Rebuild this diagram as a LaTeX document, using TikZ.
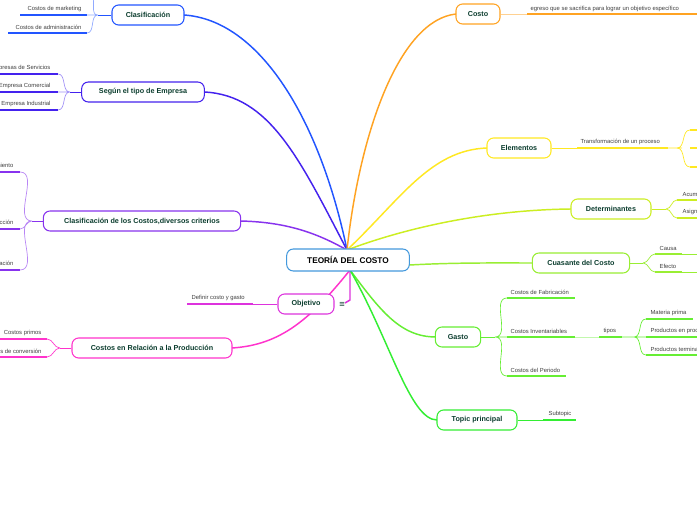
\documentclass[tikz,border=0pt]{standalone}
\usepackage{fontspec}
\setmainfont{Liberation Sans}
\begin{document}
\begin{tikzpicture}[x=0.75pt,y=-0.75pt,
  topic/.style={draw, rounded corners=5pt, line width=0.8pt, fill=white, text=tc, font=\bfseries\fontsize{5.4}{6}\selectfont, minimum height=15pt, inner sep=1pt},
  leaf/.style={font=\fontsize{4.4}{5}\selectfont, text=black!75, inner sep=1pt},
  br/.style={line width=1.1pt},
  ln/.style={line width=1.6pt},
  thin/.style={line width=0.5pt}]
\definecolor{tc}{HTML}{0B3D2E}
\definecolor{cBlue}{HTML}{2255FF}
\definecolor{cInd}{HTML}{4422EE}
\definecolor{cPur}{HTML}{8833EE}
\definecolor{cMag}{HTML}{DD33DD}
\definecolor{cPink}{HTML}{FF33CC}
\definecolor{cOr}{HTML}{FFA322}
\definecolor{cYel}{HTML}{FFE822}
\definecolor{cYG}{HTML}{CCEE22}
\definecolor{cLime}{HTML}{99EE33}
\definecolor{cGr}{HTML}{66EE33}
\definecolor{cGr2}{HTML}{33EE33}
\definecolor{cCen}{HTML}{4499DD}
\fill[white] (0,0) rectangle (697,520);
\useasboundingbox (0,0) rectangle (697,520);
\clip (0,0) rectangle (697,520);
\coordinate (ct) at (347,250);
\coordinate (cb) at (350,270);
% main branches
\draw[br,cBlue] (ct) .. controls (320,120) and (260,20) .. (184,15);
\draw[br,cInd] (ct) .. controls (300,160) and (270,95) .. (204,92);
\draw[br,cPur] (ct) .. controls (320,235) and (290,222) .. (240,221);
\draw[br,cMag] (cb) -- (350,300) -- (345,303);
\draw[br,cPink] (cb) .. controls (310,320) and (280,345) .. (232,348);
\draw[br,cOr] (ct) .. controls (360,130) and (400,20) .. (456,14);
\draw[br,cYel] (ct) .. controls (400,200) and (430,150) .. (487,148);
\draw[br,cYG] (ct) .. controls (400,230) and (480,210) .. (571,209);
\draw[br,cLime] (cb) .. controls (420,262) and (480,263) .. (532,263);
\draw[br,cGr] (cb) .. controls (380,310) and (400,337) .. (436,337);
\draw[br,cGr2] (cb) .. controls (390,340) and (410,420) .. (437,420);
% central
\node[topic, draw=cCen, minimum width=92pt, minimum height=16.5pt, font=\bfseries\fontsize{6.2}{7}\selectfont, text=black] (cen) at (348,260) {TEORÍA DEL COSTO};
% Costo
\node[topic, draw=cOr, minimum width=33pt] (costo) at (478,14) {Costo};
\draw[thin,cOr!50] (costo.east) -- (527,14);
\draw[ln,cOr] (527,14) -- (697,14);
\node[leaf, anchor=south west] (costoL) at (529,13) {egreso que se sacrifica para lograr un objetivo específico};
% Elementos
\node[topic, draw=cYel, minimum width=48pt] (elem) at (519,148) {Elementos};
\draw[thin,cYel] (elem.east) -- (577,148);
\draw[ln,cYel] (577,148) -- (668,148);
\node[leaf, anchor=south west] (elemL) at (579,146) {Transformación de un proceso};
\draw[thin,cYel] (668,148) -- (682,148) (677,148) to[out=0,in=180] (690,130) -- (697,130);
\draw[thin,cYel] (677,148) to[out=0,in=180] (690,167) -- (697,167);
\draw[ln,cYel] (690,130) -- (697,130) (690,148) -- (697,148) (690,167) -- (697,167);
% Determinantes
\node[topic, draw=cYG, minimum width=60pt] (det) at (611,209) {Determinantes};
\draw[thin,cYG] (det.east) -- (666,209);
\draw[thin,cYG] (666,209) to[out=0,in=180] (677,200) (666,209) to[out=0,in=180] (677,218);
\draw[ln,cYG] (677,200) -- (697,200) (677,218) -- (697,218);
\node[leaf, anchor=south west] (detA) at (681,198) {Acumulación};
\node[leaf, anchor=south west] (detB) at (681,216) {Asignación};
% Cuasante
\node[topic, draw=cLime, minimum width=73pt] (cua) at (581,263) {Cuasante del Costo};
\draw[thin,cLime] (cua.east) -- (643,263);
\draw[thin,cLime] (643,263) to[out=0,in=180] (655,254) (643,263) to[out=0,in=180] (655,272);
\draw[ln,cLime] (655,254) -- (682,254) (655,272) -- (682,272);
\draw[thin,cLime] (682,254) -- (697,254) (682,272) -- (697,272);
\node[leaf, anchor=south west] (cuaA) at (658,252) {Causa};
\node[leaf, anchor=south west] (cuaB) at (658,270) {Efecto};
% Gasto
\node[topic, draw=cGr, minimum width=34pt] (gasto) at (458,337) {Gasto};
\draw[thin,cGr] (gasto.east) -- (495,337);
\draw[thin,cGr] (495,337) to[out=0,in=180] (507,298) (495,337) to[out=0,in=180] (507,376) (495,337) -- (507,337);
\draw[ln,cGr] (507,298) -- (575,298) (507,337) -- (575,337) (507,376) -- (566,376);
\node[leaf, anchor=south west] (g1) at (509,296) {Costos de Fabricación};
\node[leaf, anchor=south west] (g2) at (509,335) {Costos Inventariables};
\node[leaf, anchor=south west] (g3) at (509,374) {Costos del Periodo};
\draw[thin,cGr!40] (575,337) -- (599,337);
\draw[ln,cGr] (599,337) -- (622,337);
\node[leaf, anchor=south west] (tipos) at (602,335) {tipos};
\draw[thin,cGr] (622,337) -- (634,337) (634,337) to[out=0,in=180] (646,319) (634,337) to[out=0,in=180] (646,355) (634,337) -- (646,337);
\draw[ln,cGr] (646,319) -- (693,319) (646,337) -- (697,337) (646,355) -- (697,355);
\node[leaf, anchor=south west] (t1) at (649,317) {Materia prima};
\node[leaf, anchor=south west] (t2) at (649,335) {Productos en proceso};
\node[leaf, anchor=south west] (t3) at (649,353) {Productos terminados};
% Topic principal
\node[topic, draw=cGr2, minimum width=60pt] (tp) at (477,420) {Topic principal};
\draw[thin,cGr2] (tp.east) -- (543,420);
\draw[ln,cGr2] (543,420) -- (576,420);
\node[leaf, anchor=south west] (sub) at (547,418) {Subtopic};
% Objetivo
\node[topic, draw=cMag, minimum width=42pt] (obj) at (306,304) {Objetivo};
\node[text=tc, font=\fontsize{7}{7}\selectfont] (menu) at (342,305) {≡};
\draw[thin,cMag] (obj.west) -- (253,304);
\draw[ln,cMag] (187,304) -- (253,304);
\node[leaf, anchor=south west] (objL) at (190,302) {Definir costo y gasto};
% Costos en Relacion
\node[topic, draw=cPink, minimum width=120pt] (rel) at (152,348) {Costos en Relación a la Producción};
\draw[thin,cPink] (rel.west) -- (60,348);
\draw[thin,cPink] (60,348) to[out=180,in=0] (47,339) (60,348) to[out=180,in=0] (47,357);
\draw[ln,cPink] (0,339) -- (47,339) (0,357) -- (47,357);
\node[leaf, anchor=south east] (r1) at (43,337) {Costos primos};
\node[leaf, anchor=south east] (r2) at (43,355) {Costos de conversión};
% Clasificacion de los costos
\node[topic, draw=cPur, minimum width=148pt] (cc) at (142,221) {Clasificación de los Costos,diversos criterios};
\draw[thin,cPur] (cc.west) -- (32,221);
\draw[thin,cPur!60] (32,221) to[out=180,in=0] (20,172) (32,221) to[out=180,in=0] (20,229) (32,221) to[out=180,in=0] (20,270);
\draw[ln,cPur] (0,172) -- (20,172) (0,229) -- (20,229) (0,270) -- (20,270);
\node[leaf, anchor=south east] (cc1) at (15,170) {Según su comportamiento};
\node[leaf, anchor=south east] (cc2) at (15,227) {Según su función en la producción};
\node[leaf, anchor=south east] (cc3) at (15,268) {Según su identificación};
% Segun el tipo de empresa
\node[topic, draw=cInd, minimum width=92pt] (emp) at (143,92) {Según el tipo de Empresa};
\draw[thin,cInd] (emp.west) -- (70,92);
\draw[thin,cInd!50] (70,92) to[out=180,in=0] (58,74) (70,92) to[out=180,in=0] (58,110) (70,92) -- (58,92);
\draw[ln,cInd] (0,74) -- (58,74) (0,92) -- (58,92) (0,110) -- (58,110);
\node[leaf, anchor=south east] (e1) at (52,72) {Empresas de Servicios};
\node[leaf, anchor=south east] (e2) at (52,90) {Empresa Comercial};
\node[leaf, anchor=south east] (e3) at (52,108) {Empresa Industrial};
% Clasificacion
\node[topic, draw=cBlue, minimum width=54pt] (cla) at (148,15) {Clasificación};
\draw[thin,cBlue] (cla.west) -- (98,15);
\draw[thin,cBlue!50] (98,15) to[out=180,in=0] (87,33) (98,15) -- (87,15) (98,15) to[out=180,in=-60] (92,-5);
\draw[ln,cBlue] (20,15) -- (87,15) (8,33) -- (87,33);
\node[leaf, anchor=south east] (k1) at (83,13) {Costos de marketing};
\node[leaf, anchor=south east] (k2) at (83,31) {Costos de administración};
\end{tikzpicture}
\end{document}
